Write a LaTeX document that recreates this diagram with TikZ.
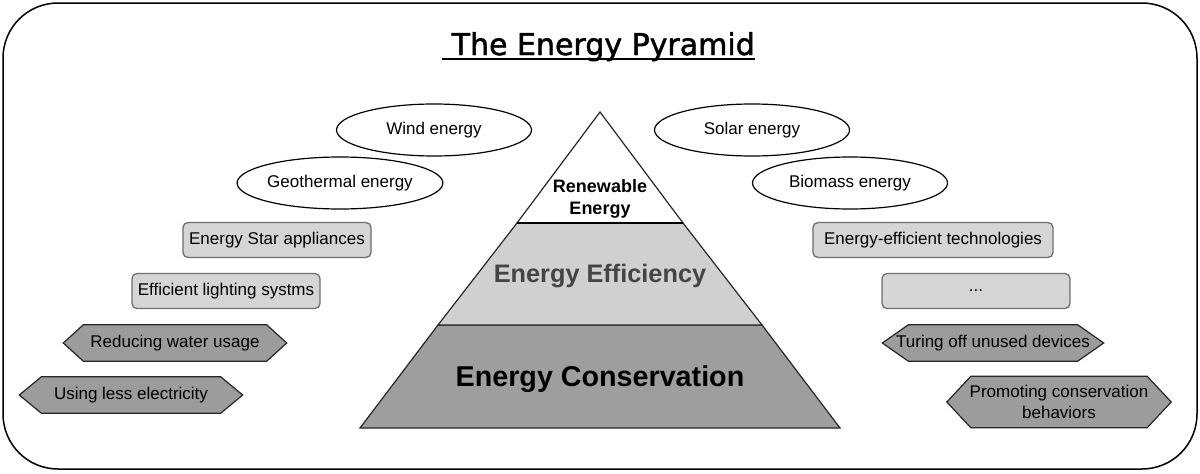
\documentclass[tikz,border=0pt]{standalone}
\usepackage{fontspec}
\setmainfont{Liberation Sans}
\newfontfamily\titlefont[FakeBold=1.6]{DejaVu Sans}
\usetikzlibrary{shapes.geometric,backgrounds}
\definecolor{boxfill}{HTML}{D5D5D5}
\definecolor{boxborder}{HTML}{6E6E6E}
\definecolor{hexfill}{HTML}{9C9C9C}
\definecolor{midfill}{HTML}{D0D0D0}
\definecolor{lowfill}{HTML}{9E9E9E}
\definecolor{efftext}{HTML}{444444}
\newcommand\hexbg[2]{%
  \begin{scope}[on background layer]
    \draw[hexpath] ([xshift=#2]#1.north west) -- ([xshift=-#2]#1.north east) -- (#1.east)
      -- ([xshift=-#2]#1.south east) -- ([xshift=#2]#1.south west) -- (#1.west) -- cycle;
  \end{scope}}
\begin{document}
\begin{tikzpicture}[x=1pt,y=-1pt,
  lbl/.style={font=\fontsize{17}{21}\selectfont, text=black},
  ell/.style={ellipse, draw=black, line width=1.2pt, fill=white, minimum width=195pt, minimum height=52pt, inner sep=0pt, lbl},
  rbox/.style={rectangle, rounded corners=5pt, draw=boxborder, fill=boxfill, line width=1.3pt, minimum height=35pt, inner sep=0pt, lbl},
  hexn/.style={rectangle, minimum height=36pt, inner sep=0pt, align=center, lbl},
  hexpath/.style={draw=black!85, fill=hexfill, line width=1.2pt},
  tier/.style={draw=black!85, line width=1.2pt}
]
\useasboundingbox (0,0) rectangle (1200,474);
\begin{scope}[on background layer]
  \fill[white] (0,0) rectangle (1200,474);
\end{scope}

% frame
\draw[line width=1.5pt, rounded corners=55pt] (3,3) rectangle (1197,469);

% title
\node[font=\titlefont\fontsize{30}{36}\selectfont, inner sep=0pt, anchor=base] (title) at (598.5,55) {\ The Energy Pyramid};
\draw[line width=2.8pt] ([yshift=-4pt]title.base west) -- ([yshift=-4pt]title.base east);

% pyramid
\coordinate (apex) at (600,112);
\coordinate (tl) at (517,223);
\coordinate (tr) at (683,223);
\coordinate (ml) at (438,325);
\coordinate (mr) at (762,325);
\coordinate (bl) at (360,428);
\coordinate (br) at (840,428);
\filldraw[tier, fill=lowfill] (ml) -- (mr) -- (br) -- (bl) -- cycle;
\filldraw[tier, fill=midfill] (tl) -- (tr) -- (mr) -- (ml) -- cycle;
\filldraw[tier, fill=white] (apex) -- (tr) -- (tl) -- cycle;
\draw[line width=2pt] (tl) -- (tr);

\node[font=\bfseries\fontsize{18}{22}\selectfont, align=center, inner sep=0pt] (renew) at (600,199) {Renewable\\Energy};
\node[font=\bfseries\fontsize{25.3}{30}\selectfont, text=efftext, inner sep=0pt] (eff) at (600,276) {Energy Efficiency};
\node[font=\bfseries\fontsize{28.7}{34}\selectfont, inner sep=0pt] (cons) at (600,379) {Energy Conservation};

% ellipses
\node[ell] (wind) at (434,130) {Wind energy};
\node[ell] (solar) at (752,130) {Solar energy};
\node[ell] (geo) at (340,183) {Geothermal energy};
\node[ell] (bio) at (850,183) {Biomass energy};

% rounded boxes
\node[rbox, minimum width=188pt] (star) at (277,240) {Energy Star appliances};
\node[rbox, minimum width=188pt] (light) at (226,291) {Efficient lighting systms};
\node[rbox, minimum width=240pt] (tech) at (933,240) {Energy-efficient technologies};
\node[rbox, minimum width=188pt] (dots) at (976,291) {...};

% hexagons
\node[hexn, minimum width=223pt] (water) at (175,343) {Reducing water usage};
\hexbg{water}{20pt}
\node[hexn, minimum width=223pt] (elec) at (131,395) {Using less electricity};
\hexbg{elec}{22pt}
\node[hexn, minimum width=221pt] (off) at (993,343) {Turing off unused devices};
\hexbg{off}{26pt}
\node[hexn, minimum width=224pt, minimum height=51pt] (promo) at (1059,402) {Promoting conservation\\behaviors};
\hexbg{promo}{24pt}
\end{tikzpicture}
\end{document}
